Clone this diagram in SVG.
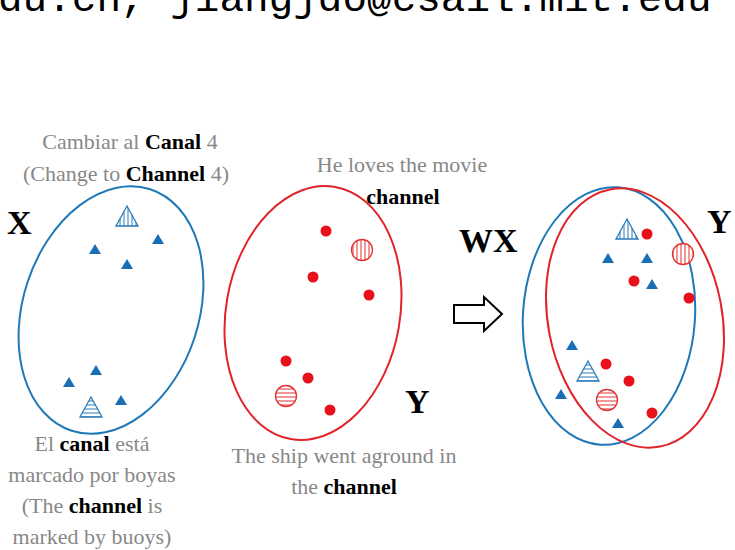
<svg xmlns="http://www.w3.org/2000/svg" width="735" height="550" viewBox="0 0 735 550">
<defs>
<pattern id="vb" width="4" height="4" patternUnits="userSpaceOnUse"><rect width="4" height="4" fill="#fff"/><line x1="1" y1="0" x2="1" y2="4" stroke="#2a7ab8" stroke-width="1"/></pattern>
<pattern id="hb" width="4" height="4" patternUnits="userSpaceOnUse"><rect width="4" height="4" fill="#fff"/><line x1="0" y1="1" x2="4" y2="1" stroke="#2a7ab8" stroke-width="1"/></pattern>
<pattern id="vr" width="4" height="4" patternUnits="userSpaceOnUse"><rect width="4" height="4" fill="#fff"/><line x1="1" y1="0" x2="1" y2="4" stroke="#e53030" stroke-width="1"/></pattern>
<pattern id="hr" width="4" height="4" patternUnits="userSpaceOnUse"><rect width="4" height="4" fill="#fff"/><line x1="0" y1="1" x2="4" y2="1" stroke="#e53030" stroke-width="1"/></pattern>
<polygon id="tri" points="0,-6 6,4 -6,4" fill="#1a6eb5"/>
<polygon id="btri" points="0,-11 11,9 -11,9" stroke="#2a7ab8" stroke-width="1.3"/>
<circle id="dot" r="5.5" fill="#e8101a"/>
</defs>
<style>
.g{font-family:"Liberation Serif","Times New Roman",serif;font-size:22px;fill:#888;text-anchor:middle}
.b{font-family:"Liberation Serif","Times New Roman",serif;font-weight:bold;fill:#000}
.L{font-family:"Liberation Serif","Times New Roman",serif;font-size:34px;font-weight:bold;fill:#000}
.m{font-family:"Liberation Mono","Courier New",monospace;font-size:41px;fill:#000}
.eb{fill:none;stroke:#1f78b8;stroke-width:2}
.er{fill:none;stroke:#e0242a;stroke-width:2}
</style>
<text class="m" x="-2" y="11">du.cn, jiangjdo@csail.mit.edu</text>
<g id="textsX">
<text class="g" x="130" y="149">Cambiar al <tspan class="b">Canal</tspan> 4</text>
<text class="g" x="126" y="181">(Change to <tspan class="b">Channel</tspan> 4)</text>
<text class="g" x="92" y="451">El <tspan class="b">canal</tspan> está</text>
<text class="g" x="92" y="482">marcado por boyas</text>
<text class="g" x="92" y="513">(The <tspan class="b">channel</tspan> is</text>
<text class="g" x="92" y="544">marked by buoys)</text>
</g>
<g id="textsY">
<text class="g" x="402" y="172">He loves the movie</text>
<text class="g" x="403" y="204"><tspan class="b">channel</tspan></text>
<text class="g" x="344" y="463">The ship went aground in</text>
<text class="g" x="344" y="494">the <tspan class="b">channel</tspan></text>
</g>
<text class="L" x="7" y="234">X</text>
<text class="L" x="405" y="413">Y</text>
<text class="L" x="459" y="252">WX</text>
<text class="L" x="707" y="233">Y</text>
<g id="setX">
<ellipse class="eb" cx="111" cy="310" rx="88" ry="127" transform="rotate(18 111 310)"/>
<use href="#btri" x="127" y="217" fill="url(#vb)"/>
<use href="#btri" x="91" y="408" fill="url(#hb)"/>
<use href="#tri" x="95" y="250"/><use href="#tri" x="158" y="240"/><use href="#tri" x="127" y="265"/>
<use href="#tri" x="96" y="371"/><use href="#tri" x="69" y="383"/><use href="#tri" x="121" y="401"/>
</g>
<g id="setY">
<ellipse class="er" cx="313" cy="313" rx="87" ry="128" transform="rotate(10 313 313)"/>
<use href="#dot" x="326" y="231"/><use href="#dot" x="313" y="277"/><use href="#dot" x="369" y="295"/>
<use href="#dot" x="286" y="361"/><use href="#dot" x="308" y="378"/><use href="#dot" x="330" y="410"/>
<circle cx="362" cy="250" r="10.5" fill="url(#vr)" stroke="#e53030" stroke-width="1.3"/>
<circle cx="286" cy="396" r="10.5" fill="url(#hr)" stroke="#e53030" stroke-width="1.3"/>
</g>
<g id="connectors">
<polygon points="454,305 484,305 484,297 502,314 484,331 484,323 454,323" fill="#fff" stroke="#000" stroke-width="2"/>
</g>
<g id="setWXY">
<ellipse class="eb" cx="609" cy="316" rx="86" ry="129" transform="rotate(4 609 316)"/>
<ellipse class="er" cx="635" cy="318" rx="87" ry="131" transform="rotate(-11 635 318)"/>
<use href="#btri" x="627" y="230" fill="url(#vb)"/>
<use href="#btri" x="588" y="372" fill="url(#hb)"/>
<use href="#dot" x="647" y="234"/><use href="#dot" x="634" y="281"/><use href="#dot" x="689" y="298"/>
<use href="#dot" x="606" y="364"/><use href="#dot" x="629" y="381"/><use href="#dot" x="652" y="413"/>
<circle cx="683" cy="254" r="10.5" fill="url(#vr)" stroke="#e53030" stroke-width="1.3"/>
<circle cx="607" cy="400" r="10.5" fill="url(#hr)" stroke="#e53030" stroke-width="1.3"/>
<use href="#tri" x="608" y="259"/><use href="#tri" x="647" y="259"/><use href="#tri" x="652" y="285"/>
<use href="#tri" x="572" y="346"/><use href="#tri" x="561" y="395"/><use href="#tri" x="618" y="424"/>
</g>
</svg>
